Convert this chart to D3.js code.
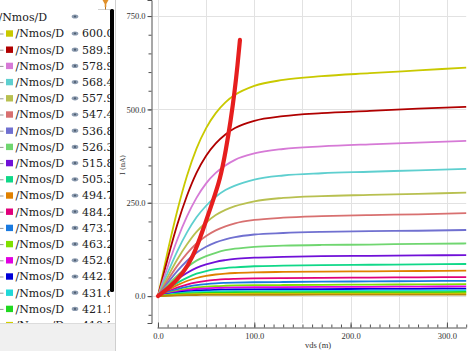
<!DOCTYPE html>
<html><head><meta charset="utf-8">
<script src="https://cdn.jsdelivr.net/npm/d3@7"></script>
<style>html,body{margin:0;padding:0;background:#fff;overflow:hidden}</style>
</head><body>
<svg id="c" width="474" height="351"></svg>
<script>
// ---- data ----
const vds = [0,10,20,30,40,50,60,70,80,100,130,170,220,270,320];
const sweepLabels = ["600.0","589.5","578.9","568.4","557.9","547.4","536.8","526.3","515.8","505.3","494.7","484.2","473.7","463.2","452.6","442.1","431.6","421.1","410.5","400.0"];
const colors = ["#c9c900","#b00000","#d67ad6","#5ecfcf","#b8c050","#d87070","#7070d0","#70d670","#7010d8","#10d888","#e08000","#e0007a","#1a7ae0","#80e000","#e000e0","#0000d8","#20d8d8","#20d820","#d0d000","#b8860b"];
const i600 = [0,119,228,321,395,450,490,519,539,563,579,589,597,604.5,612];
const i589 = [0,99.5,191,268,330,376,409,433,450,469.5,482,490,496,502,507];
const i579 = [0,78,151,213,263,302,330,350,365,382,394,401,406.5,411,416];
const i568 = [0,62,120,170,211,242,266,284,296,312,323,329,333,337,341];
const i558 = [0,51,98,138,172,197,217,231,241,254,263,268,271,274,277];
const i547 = [0,42,81,114,141,161,176,187,195,204,210,214,217,219,222];
const i537 = [0,35,67,94,116,132,144,152,158,165,169,172,174,175,177];
const i526 = [0,29,55,77,95,107,116,123,127,132,135,137,138,140,141];
const i516 = [0,23,45,62,75.5,85,92,96.5,100,103,105,107,108,109,110];
const i505 = [0,19,35.5,49,60,67,72,75,77,80,81.5,83,84,85,86];
const i495 = [0,15.6,29.4,40.4,48.5,54.2,57.9,60.3,61.9,63.7,64.8,65.6,66.4,67.2,68];
const i484 = [0,12,22.7,31,36.9,41,43.5,45.3,46.3,47.5,48.3,48.9,49.6,50.3,51];
const i474 = [0,9.8,18.2,24.8,29.4,32.3,34.3,35.4,36.2,37.1,37.8,38.6,39.4,40.2,41];
const i463 = [0,7.7,14.3,19.5,23.1,25.4,26.9,27.8,28.5,29.2,29.7,30.2,30.8,31.4,32];
const i453 = [0,6.5,12.1,16.3,19.1,20.9,22,22.7,23.2,23.7,24.1,24.5,25,25.5,26];
const i442 = [0,5,9.3,12.4,14.6,16,16.8,17.4,17.7,18.1,18.4,18.8,19.2,19.6,20];
const i432 = [0,4,7.2,9.7,11.2,12.2,12.8,13.1,13.4,13.6,13.9,14.1,14.4,14.7,15];
const i421 = [0,2.9,5.3,7,8.2,8.9,9.4,9.6,9.8,10,10.1,10.3,10.5,10.8,11];
const i411 = [0,1.8,3.4,4.5,5.2,5.65,5.9,6.1,6.2,6.3,6.4,6.55,6.7,6.85,7];
const i400 = [0,1.04,1.9,2.55,2.95,3.2,3.4,3.5,3.57,3.64,3.7,3.75,3.83,3.9,4];
const series = [i600,i589,i579,i568,i558,i547,i537,i526,i516,i505,i495,i484,i474,i463,i453,i442,i432,i421,i411,i400];
// hand-drawn red annotation (vds, I)
const markX = [0,12.4,26,36.3,46.6,57,64.4,70.5,75.5,79.5,82.7,85.1];
const markY = [0,24,61,104,176,255,311,390,470,545,620,686];
const xMajor = [0,100,200,300];
const yMajor = [0,250,500,750];
const xGrid = [0,50,100,150,200,250,300];
const legendHeader = "/Nmos/D";
const traceName = "/Nmos/D";
const xTitle = "vds (m)";
const yTitle = "I (nA)";

// ---- drawing ----
const svg = d3.select("#c");
const x = d3.scaleLinear().domain([-1,320]).range([157,466.2]);
const y = d3.scaleLinear().domain([-72,793]).range([323,0]);

svg.append("rect").attr("width",474).attr("height",351).attr("fill","#fff");

// grid
const grid = svg.append("g").attr("stroke","#e2e2e2").attr("stroke-width",1);
grid.selectAll("line.v").data(xGrid).join("line")
  .attr("x1",d=>Math.round(x(d))+0.5).attr("x2",d=>Math.round(x(d))+0.5)
  .attr("y1",y.range()[1]).attr("y2",y.range()[0]);
grid.selectAll("line.h").data(yMajor).join("line")
  .attr("y1",d=>Math.round(y(d))+0.5).attr("y2",d=>Math.round(y(d))+0.5)
  .attr("x1",151).attr("x2",x.range()[1]);

// axes
const axisCol = "#505050";
svg.append("g").attr("transform","translate(151.5,0)")
  .call(d3.axisLeft(y).tickValues(yMajor).tickFormat(d3.format(".1f")).tickSize(4).tickPadding(2));
const yMin = svg.append("g").attr("transform","translate(151.5,0)")
  .call(d3.axisLeft(y).tickValues(d3.range(-50,751,50)).tickFormat("").tickSize(3));
yMin.select(".domain").remove();
svg.append("g").attr("transform","translate(0,327.5)")
  .call(d3.axisBottom(x).tickValues(xMajor).tickFormat(d3.format(".1f")).tickSizeInner(-5).tickSizeOuter(0).tickPadding(5.5));
const xMin = svg.append("g").attr("transform","translate(0,327.5)")
  .call(d3.axisBottom(x).tickValues(d3.range(0,321,10)).tickFormat("").tickSize(-3));
xMin.select(".domain").remove();
svg.selectAll(".domain").attr("stroke",axisCol);
svg.selectAll(".tick line").attr("stroke",axisCol);
svg.selectAll(".tick text").attr("fill","#333").style("font-family","'Liberation Serif',serif").style("font-size","8.5px");

svg.append("text").attr("transform","translate(125,165) rotate(-90)").attr("text-anchor","middle")
  .style("font-family","'DejaVu Serif',serif").style("font-size","7px").attr("fill","#333").text(yTitle);
svg.append("text").attr("x",318).attr("y",347.5).attr("text-anchor","middle")
  .style("font-family","'Liberation Serif',serif").style("font-size","8.5px").attr("fill","#333").text(xTitle);

// curves
const line = d3.line().x((d,i)=>x(vds[i])).y(d=>y(d)).curve(d3.curveMonotoneX);
svg.append("g").selectAll("path").data(series).join("path")
  .attr("d",line).attr("fill","none")
  .attr("stroke",(d,i)=>colors[i]).attr("stroke-width",1.8);

// red annotation
const mline = d3.line().x((d,i)=>x(markX[i])).y(d=>y(d)).curve(d3.curveBasis);
svg.append("path").datum(markY).attr("d",mline).attr("fill","none")
  .attr("stroke","#e61e1e").attr("stroke-width",4.2).attr("stroke-linecap","round").attr("stroke-linejoin","round");

// ---- left legend panel ----
svg.append("rect").attr("x",0).attr("y",0).attr("width",115).attr("height",351).attr("fill","#fff");
svg.append("defs").append("clipPath").attr("id","lclip").append("rect")
  .attr("x",0).attr("y",0).attr("width",110).attr("height",323.5);
const leg = svg.append("g").attr("clip-path","url(#lclip)");
const fontL = "'DejaVu Serif',serif";
function eye(g, cx, cy){
  g.append("ellipse").attr("cx",cx).attr("cy",cy).attr("rx",3.3).attr("ry",2.1).attr("fill","#8d9cb0");
  g.append("circle").attr("cx",cx).attr("cy",cy).attr("r",1.1).attr("fill","#4d5d70");
}
leg.append("text").attr("x",-1.5).attr("y",17).attr("dy","0.36em")
  .style("font-family",fontL).style("font-size","11px").attr("fill","#202020").text(legendHeader);
eye(leg,75,16.5);
const rowY = i => 33.5 + i*16.2;
sweepLabels.forEach((lab,i)=>{
  const cy = rowY(i);
  leg.append("line").attr("x1",0).attr("x2",3.5).attr("y1",cy+0.5).attr("y2",cy+0.5).attr("stroke","#999");
  leg.append("rect").attr("x",6).attr("y",cy-3.2).attr("width",7).attr("height",6.4).attr("fill",colors[i]);
  leg.append("text").attr("x",15.5).attr("y",cy).attr("dy","0.36em")
    .style("font-family",fontL).style("font-size","11px").attr("fill","#202020").text(traceName);
  eye(leg,75,cy);
  leg.append("text").attr("x",82).attr("y",cy).attr("dy","0.36em")
    .style("font-family",fontL).style("font-size","11px").attr("fill","#202020").text(lab);
});
// bottom gray area
svg.append("rect").attr("x",0).attr("y",323.5).attr("width",115).attr("height",28).attr("fill","#f0f0f0");
svg.append("line").attr("x1",0).attr("x2",115).attr("y1",323.5).attr("y2",323.5).attr("stroke","#dcdcdc");
// scroll bar and divider
svg.append("rect").attr("x",110).attr("y",9).attr("width",4).attr("height",283).attr("rx",1.5).attr("fill","#000");
svg.append("line").attr("x1",115.5).attr("x2",115.5).attr("y1",0).attr("y2",351).attr("stroke","#cfcfcf");
// small orange pin icon
svg.append("line").attr("x1",98).attr("x2",110).attr("y1",9.5).attr("y2",9.5).attr("stroke","#d0d0d0");
svg.append("path").attr("d","M102.5,0 L108.5,0 L106.3,4 L106.3,7 L104.7,7 L104.7,4 Z").attr("fill","#e0902a");
svg.append("line").attr("x1",105.5).attr("x2",105.5).attr("y1",7).attr("y2",9.5).attr("stroke","#b07020");
</script>
</body></html>
